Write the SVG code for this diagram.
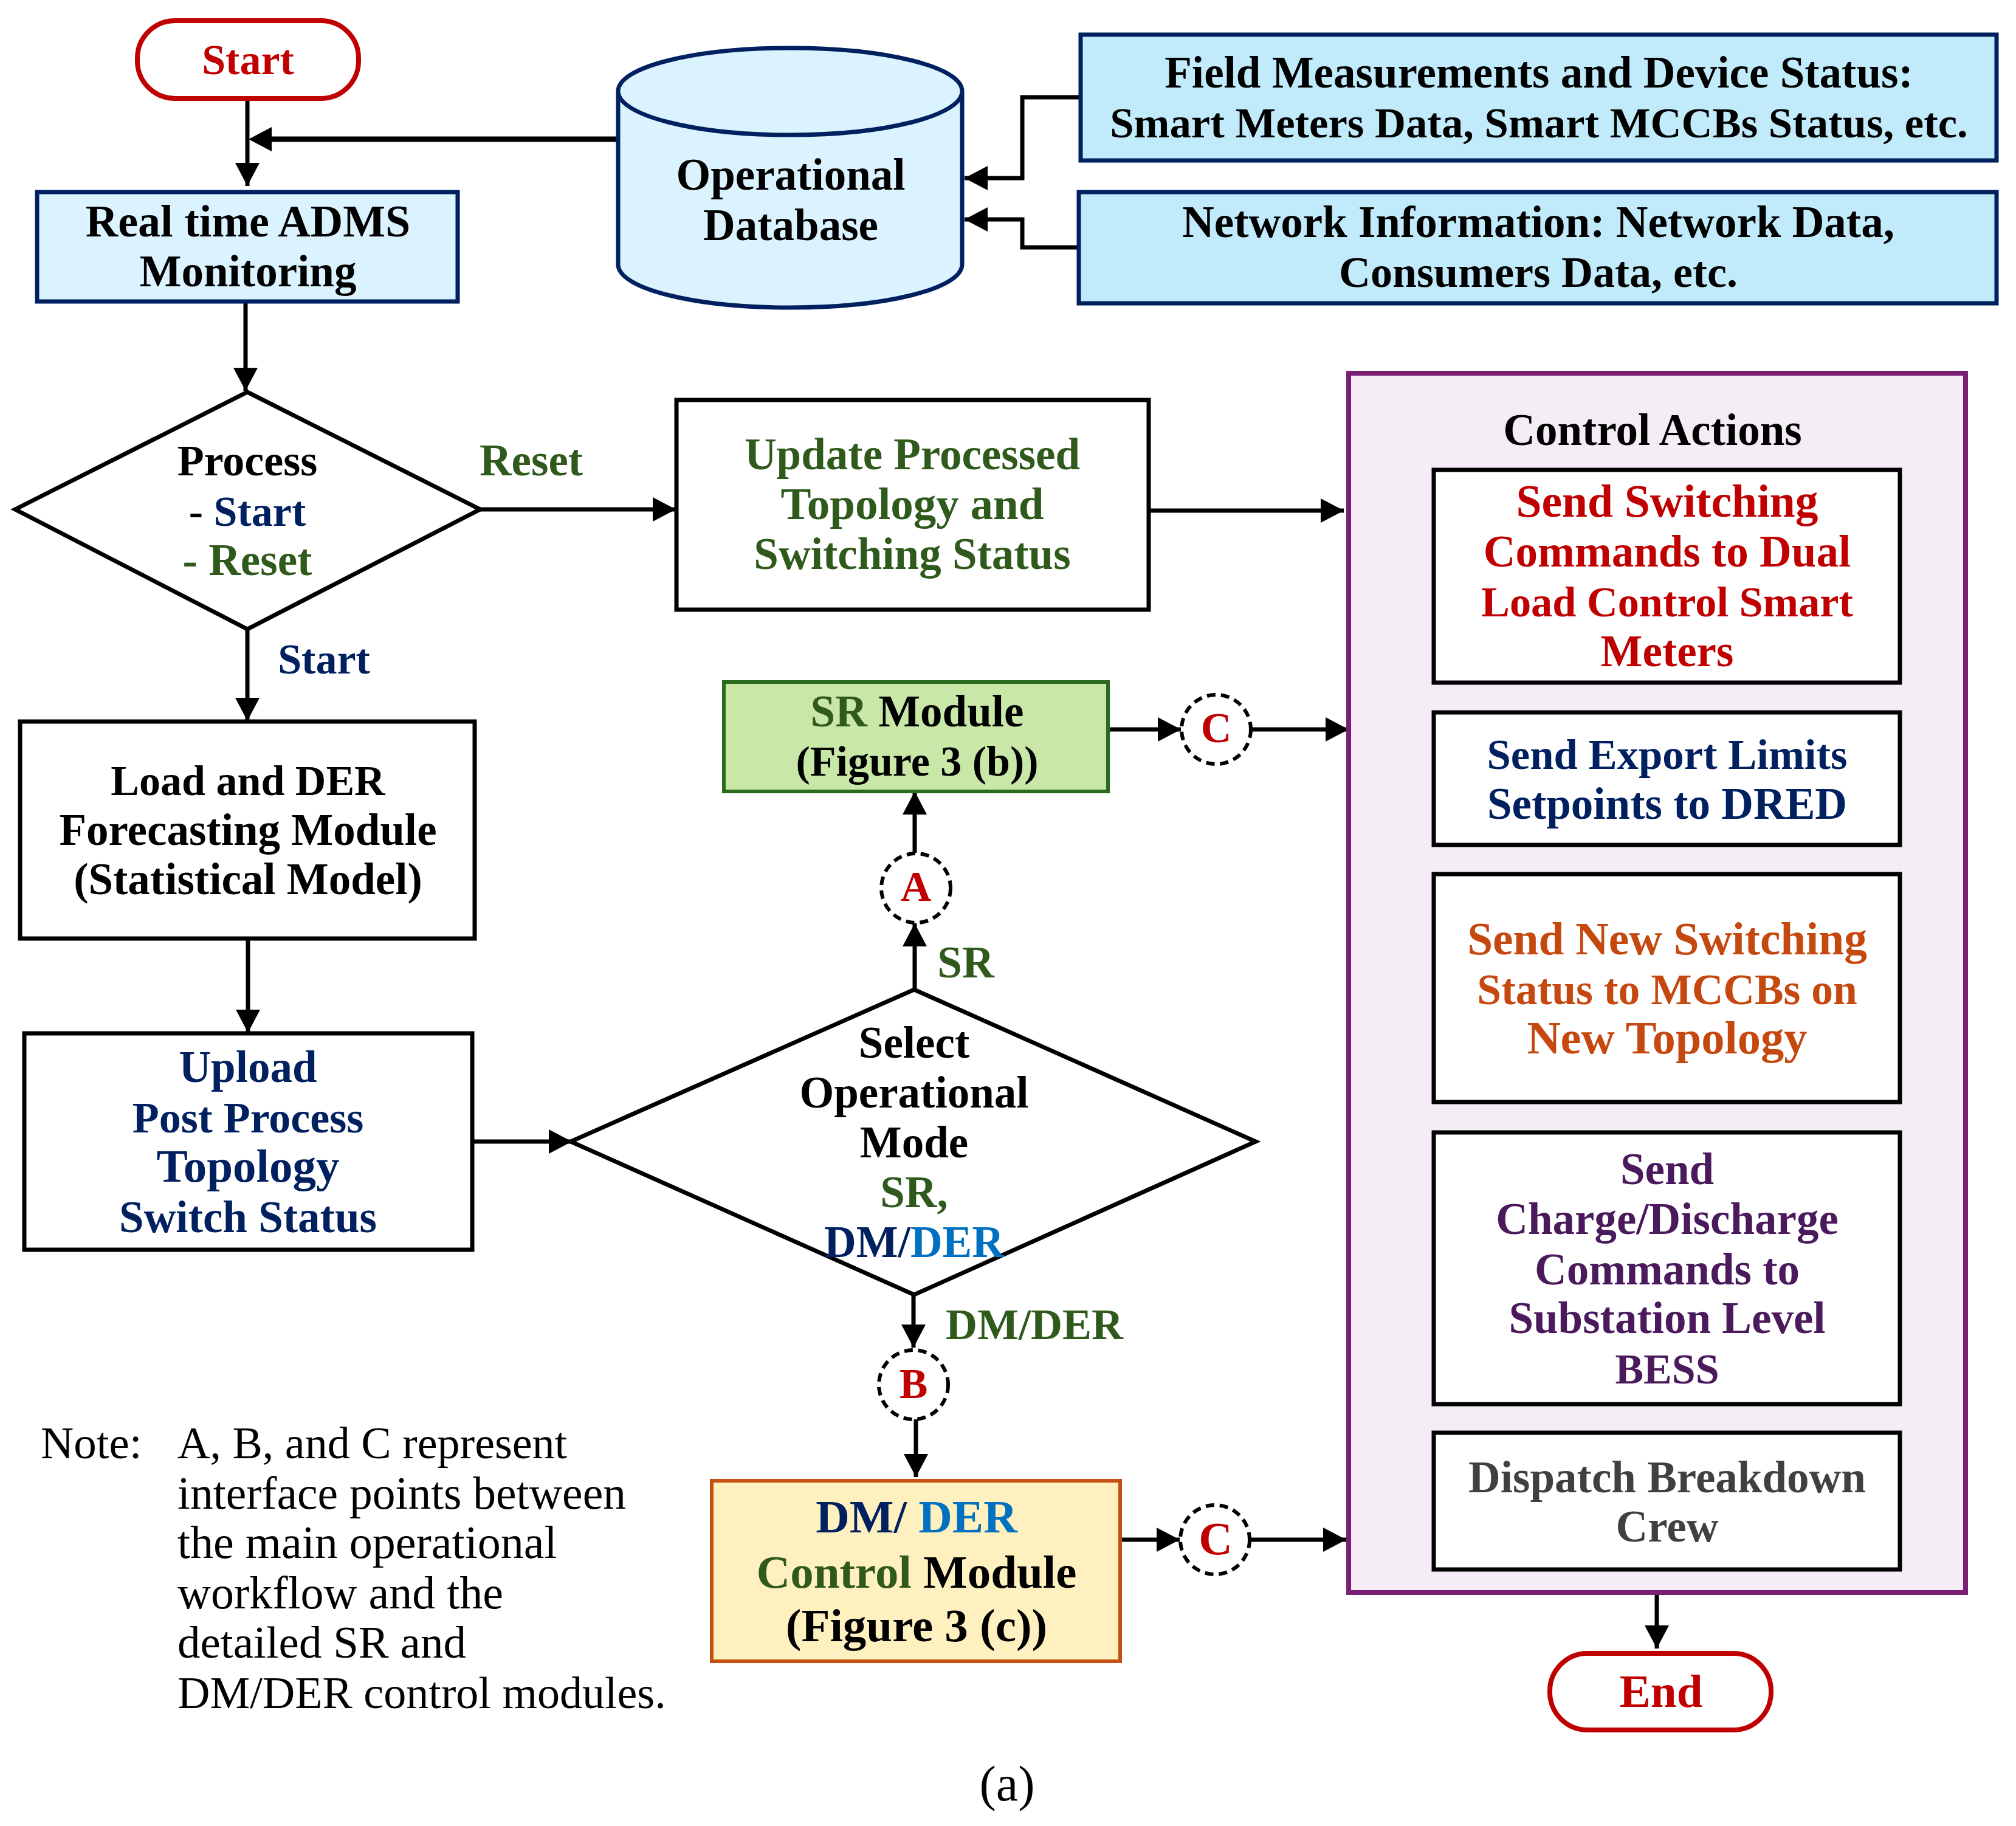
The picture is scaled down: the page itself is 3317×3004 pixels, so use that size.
<svg xmlns="http://www.w3.org/2000/svg" width="3317" height="3004" viewBox="0 0 3317 3004">
<style>
text{font-family:"Liberation Serif","Times New Roman",serif;font-size:73px;font-weight:700;text-anchor:middle;fill:#000}
.s{font-size:70px}.l{font-size:77px}.m{font-size:75px}
.r{fill:#c00000}.n{fill:#002060}.g{fill:#2f5a1c}.b{fill:#0070c0}.o{fill:#c5480f}.p{fill:#4a1a5c}.y{fill:#404040}
.note{font-weight:400;text-anchor:start;font-size:75px}
.box{stroke:#000;stroke-width:7;fill:#fff}
.blue{stroke:#002060;stroke-width:7;fill:#dbf3fe}
.blue2{stroke:#002060;stroke-width:7;fill:#c1ebfb}
.con{fill:none;stroke:#000;stroke-width:7}
.dash{fill:#fff;stroke:#000;stroke-width:6;stroke-dasharray:14 9}
</style>
<defs>
<marker id="a" markerUnits="userSpaceOnUse" markerWidth="42" markerHeight="42" refX="38" refY="20" orient="auto"><path d="M0 0L38 20L0 40Z" fill="#000"/></marker>
</defs>
<rect width="3317" height="3004" fill="#fff"/>
<g id="connectors">
<path class="con" d="M407 164V306" marker-end="url(#a)"/>
<path class="con" d="M1014 229H430" style="stroke-width:9"/>
<path d="M409 229L447 209V249Z" fill="#000"/>
<path class="con" d="M404 496V643" marker-end="url(#a)"/>
<path class="con" d="M789 838H1112" marker-end="url(#a)"/>
<path class="con" d="M1891 840H2211" marker-end="url(#a)"/>
<path class="con" d="M1777 160H1682V293H1587" marker-end="url(#a)"/>
<path class="con" d="M1774 407H1682V361H1587" marker-end="url(#a)"/>
<path class="con" d="M407 1033V1186" marker-end="url(#a)"/>
<path class="con" d="M408 1544V1699" marker-end="url(#a)"/>
<path class="con" d="M777 1878H941" marker-end="url(#a)"/>
<path class="con" d="M1505 1627V1519" marker-end="url(#a)"/>
<path class="con" d="M1505 1403V1302" marker-end="url(#a)"/>
<path class="con" d="M1824 1200H1943" marker-end="url(#a)"/>
<path class="con" d="M2057 1200H2219" marker-end="url(#a)"/>
<path class="con" d="M1503 2130V2217" marker-end="url(#a)"/>
<path class="con" d="M1507 2335V2430" marker-end="url(#a)"/>
<path class="con" d="M1844 2533H1941" marker-end="url(#a)"/>
<path class="con" d="M2057 2533H2215" marker-end="url(#a)"/>
<path class="con" d="M2726 2620V2712" marker-end="url(#a)"/>
</g>
<g id="start"><rect x="226" y="34" width="364" height="128" rx="62" fill="#fff" stroke="#c00000" stroke-width="8"/><text x="408" y="122" class="r s">Start</text></g>
<g id="database"><path class="blue" d="M1017 150V435C1017 475 1143 506 1300 506S1583 475 1583 435V150C1583 110 1457 79 1300 79S1017 110 1017 150C1017 190 1143 222 1300 222S1583 190 1583 150"/><text x="1301" y="312">Operational</text><text x="1301" y="395">Database</text></g>
<g id="field"><rect class="blue2" x="1778" y="57" width="1507" height="207"/><text x="2532" y="144">Field Measurements and Device Status:</text><text x="2532" y="226" style="font-size:70.7px">Smart Meters Data, Smart MCCBs Status, etc.</text></g>
<g id="network"><rect class="blue2" x="1775" y="316" width="1510" height="183"/><text x="2531" y="390">Network Information: Network Data,</text><text x="2531" y="472" style="font-size:72px">Consumers Data, etc.</text></g>
<g id="monitoring"><rect class="blue" x="61" y="316" width="692" height="180"/><text x="408" y="389" style="font-size:74px">Real time ADMS</text><text x="408" y="471">Monitoring</text></g>
<g id="process"><path class="box" d="M407 645L790 838L407 1035L25 838Z"/><text x="407" y="782" style="font-size:72px">Process</text><text x="407" y="865" class="s"><tspan>- </tspan><tspan class="n">Start</tspan></text><text x="407" y="946" class="g">- Reset</text></g>
<g id="update"><rect class="box" x="1113" y="658" width="777" height="345"/><text x="1501" y="772" class="g">Update Processed</text><text x="1501" y="854" class="g m">Topology and</text><text x="1501" y="936" class="g">Switching Status</text></g>
<g id="load"><rect class="box" x="33" y="1187" width="748" height="357"/><text x="408" y="1308" class="s">Load and DER</text><text x="408" y="1390">Forecasting Module</text><text x="408" y="1471">(Statistical Model)</text></g>
<g id="upload"><rect class="box" x="40" y="1700" width="737" height="356"/><text x="408" y="1780" class="n">Upload</text><text x="408" y="1863" class="n" style="font-size:72px">Post Process</text><text x="408" y="1944" class="n l">Topology</text><text x="408" y="2027" class="n">Switch Status</text></g>
<g id="select"><path class="box" d="M1504 1628L2066 1878L1504 2130L939 1878Z"/><text x="1504" y="1740">Select</text><text x="1504" y="1822">Operational</text><text x="1504" y="1904">Mode</text><text x="1504" y="1986" class="g">SR,</text><text x="1504" y="2068"><tspan class="n">DM/</tspan><tspan class="b">DER</tspan></text></g>
<g id="sr"><rect x="1191" y="1122" width="632" height="180" fill="#c9e8a8" stroke="#2c6a1e" stroke-width="6"/><text x="1509" y="1195"><tspan class="g">SR </tspan>Module</text><text x="1509" y="1276" class="s">(Figure 3 (b))</text></g>
<g id="dm"><rect x="1171" y="2436" width="672" height="297" fill="#fff0bf" stroke="#c5500f" stroke-width="6"/><text x="1508" y="2521" class="l"><tspan class="n">DM/ </tspan><tspan class="b">DER</tspan></text><text x="1508" y="2612" class="l"><tspan class="g">Control </tspan>Module</text><text x="1508" y="2700" class="l">(Figure 3 (c))</text></g>
<g id="ca"><circle class="dash" cx="1507" cy="1461" r="57"/><text x="1507" y="1482" class="r s">A</text></g>
<g id="cb"><circle class="dash" cx="1503" cy="2278" r="57"/><text x="1503" y="2300" class="r s">B</text></g>
<g id="cc1"><circle class="dash" cx="2001" cy="1200" r="57"/><text x="2001" y="1221" class="r s">C</text></g>
<g id="cc2"><circle class="dash" cx="1999" cy="2533" r="57"/><text x="2000" y="2557" class="r l">C</text></g>
<g id="labels"><text x="874" y="782" class="g">Reset</text><text x="533" y="1108" class="n s">Start</text><text x="1589" y="1608" class="g">SR</text><text x="1702" y="2203" class="g" style="font-size:72px">DM/DER</text></g>
<g id="frame"><rect x="2219" y="614" width="1015" height="2006" fill="#f4edf5" stroke="#7b1f74" stroke-width="8"/><text x="2719" y="732">Control Actions</text></g>
<g id="a1"><rect class="box" x="2359" y="773" width="767" height="350"/><text x="2743" y="850" class="r" style="font-size:75.5px">Send Switching</text><text x="2743" y="932" class="r">Commands to Dual</text><text x="2743" y="1014" class="r" style="font-size:70.3px">Load Control Smart</text><text x="2743" y="1096" class="r">Meters</text></g>
<g id="a2"><rect class="box" x="2359" y="1172" width="767" height="218"/><text x="2743" y="1265" class="n" style="font-size:70.7px">Send Export Limits</text><text x="2743" y="1347" class="n">Setpoints to DRED</text></g>
<g id="a3"><rect class="box" x="2359" y="1438" width="767" height="375"/><text x="2743" y="1570" class="o" style="font-size:75.4px">Send New Switching</text><text x="2743" y="1652" class="o" style="font-size:71.5px">Status to MCCBs on</text><text x="2743" y="1733" class="o" style="font-size:76.5px">New Topology</text></g>
<g id="a4"><rect class="box" x="2359" y="1863" width="767" height="447"/><text x="2743" y="1948" class="p">Send</text><text x="2743" y="2030" class="p">Charge/Discharge</text><text x="2743" y="2113" class="p">Commands to</text><text x="2743" y="2193" class="p">Substation Level</text><text x="2743" y="2276" class="p s">BESS</text></g>
<g id="a5"><rect class="box" x="2359" y="2357" width="767" height="225"/><text x="2743" y="2455" class="y">Dispatch Breakdown</text><text x="2743" y="2536" class="y">Crew</text></g>
<g id="end"><rect x="2550" y="2720" width="364" height="126" rx="62" fill="#fff" stroke="#c00000" stroke-width="8"/><text x="2733" y="2808" class="r l">End</text></g>
<g id="note"><text class="note" x="67" y="2399">Note:</text><text class="note" x="292" y="2399" style="font-size:74px">A, B, and C represent</text><text class="note" x="292" y="2482" style="font-size:75.5px">interface points between</text><text class="note" x="292" y="2563" style="font-size:76px">the main operational</text><text class="note" x="292" y="2646" style="font-size:76px">workflow and the</text><text class="note" x="292" y="2727">detailed SR and</text><text class="note" x="292" y="2810" style="font-size:74px">DM/DER control modules.</text></g>
<text x="1657" y="2962" style="font-weight:400;font-size:82px">(a)</text>
</svg>
